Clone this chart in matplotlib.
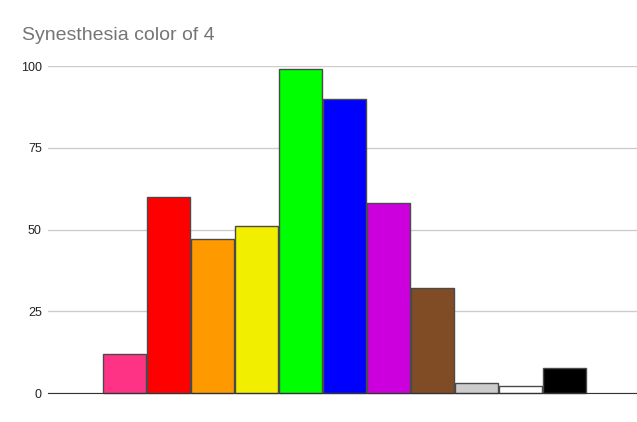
import matplotlib.pyplot as plt

colors = ['#ff3385', '#ff0000', '#ff9900', '#f2ee00', '#00ff00', '#0000ff',
          '#cc00dd', '#7f4c26', '#cccccc', '#ffffff', '#000000']
counts = [12, 60, 47, 51, 99, 90, 58, 32, 3, 2, 7.6]
yticks = [0, 25, 50, 75, 100]

plt.rcParams['font.family'] = ['Liberation Sans', 'DejaVu Sans']

fig = plt.figure(figsize=(6.37, 4.22), dpi=100)
ax = fig.add_axes([0.0754, 0.0687, 0.9246, 0.7749])

x = list(range(len(counts)))
ax.bar(x, counts, width=0.98, color=colors, edgecolor='#4a4a4a',
       linewidth=1, zorder=3, clip_on=False)

ax.set_xlim(-1.74, len(counts) - 1 + 1.65)
ax.set_ylim(0, 100)
ax.set_yticks(yticks)
ax.set_yticklabels([str(t) for t in yticks], fontsize=9, color='#222222')
ax.set_xticks([])
ax.tick_params(axis='y', length=0, pad=4.5)
ax.grid(axis='y', color='#cccccc', linewidth=1, zorder=0)
for s in ['top', 'right', 'left']:
    ax.spines[s].set_visible(False)
ax.spines['bottom'].set_color('#333333')
ax.spines['bottom'].set_zorder(4)

fig.text(0.0345, 0.905, 'Synesthesia color of 4', fontsize=14,
         color='#757575', ha='left', va='baseline')

fig.savefig('out.png', dpi=100)
